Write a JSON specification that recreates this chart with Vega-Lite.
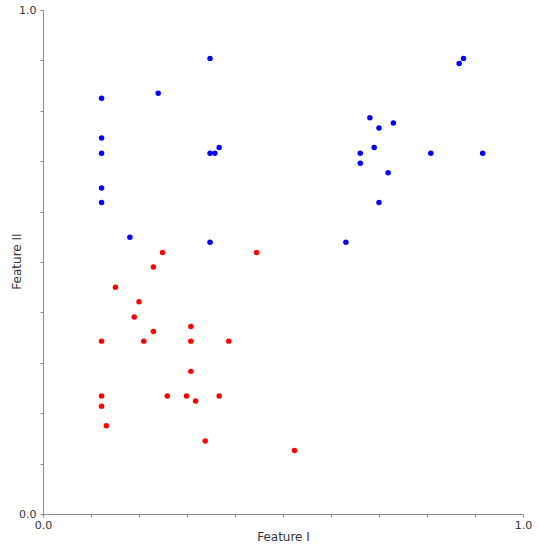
{
  "$schema": "https://vega.github.io/schema/vega-lite/v6.json",
  "autosize": {"type": "none"},
  "padding": {"left": 43, "top": 10, "right": 15, "bottom": 36},
  "width": 480,
  "height": 504,
  "config": {
    "view": {"stroke": null},
    "font": "DejaVu Sans"
  },
  "data": {
    "values": [
      {"f1": 0.348, "f2": 0.904, "cls": "A"},
      {"f1": 0.240, "f2": 0.835, "cls": "A"},
      {"f1": 0.122, "f2": 0.825, "cls": "A"},
      {"f1": 0.122, "f2": 0.746, "cls": "A"},
      {"f1": 0.122, "f2": 0.716, "cls": "A"},
      {"f1": 0.348, "f2": 0.716, "cls": "A"},
      {"f1": 0.358, "f2": 0.716, "cls": "A"},
      {"f1": 0.367, "f2": 0.727, "cls": "A"},
      {"f1": 0.122, "f2": 0.647, "cls": "A"},
      {"f1": 0.122, "f2": 0.618, "cls": "A"},
      {"f1": 0.181, "f2": 0.549, "cls": "A"},
      {"f1": 0.348, "f2": 0.539, "cls": "A"},
      {"f1": 0.876, "f2": 0.904, "cls": "A"},
      {"f1": 0.867, "f2": 0.894, "cls": "A"},
      {"f1": 0.681, "f2": 0.786, "cls": "A"},
      {"f1": 0.730, "f2": 0.776, "cls": "A"},
      {"f1": 0.700, "f2": 0.766, "cls": "A"},
      {"f1": 0.690, "f2": 0.727, "cls": "A"},
      {"f1": 0.661, "f2": 0.716, "cls": "A"},
      {"f1": 0.808, "f2": 0.716, "cls": "A"},
      {"f1": 0.916, "f2": 0.716, "cls": "A"},
      {"f1": 0.661, "f2": 0.696, "cls": "A"},
      {"f1": 0.719, "f2": 0.677, "cls": "A"},
      {"f1": 0.700, "f2": 0.618, "cls": "A"},
      {"f1": 0.631, "f2": 0.539, "cls": "A"},
      {"f1": 0.249, "f2": 0.519, "cls": "B"},
      {"f1": 0.445, "f2": 0.519, "cls": "B"},
      {"f1": 0.230, "f2": 0.490, "cls": "B"},
      {"f1": 0.151, "f2": 0.450, "cls": "B"},
      {"f1": 0.200, "f2": 0.421, "cls": "B"},
      {"f1": 0.190, "f2": 0.391, "cls": "B"},
      {"f1": 0.230, "f2": 0.362, "cls": "B"},
      {"f1": 0.308, "f2": 0.372, "cls": "B"},
      {"f1": 0.122, "f2": 0.343, "cls": "B"},
      {"f1": 0.210, "f2": 0.343, "cls": "B"},
      {"f1": 0.308, "f2": 0.343, "cls": "B"},
      {"f1": 0.387, "f2": 0.343, "cls": "B"},
      {"f1": 0.308, "f2": 0.283, "cls": "B"},
      {"f1": 0.122, "f2": 0.234, "cls": "B"},
      {"f1": 0.259, "f2": 0.234, "cls": "B"},
      {"f1": 0.299, "f2": 0.234, "cls": "B"},
      {"f1": 0.367, "f2": 0.234, "cls": "B"},
      {"f1": 0.318, "f2": 0.224, "cls": "B"},
      {"f1": 0.122, "f2": 0.214, "cls": "B"},
      {"f1": 0.132, "f2": 0.175, "cls": "B"},
      {"f1": 0.338, "f2": 0.145, "cls": "B"},
      {"f1": 0.524, "f2": 0.126, "cls": "B"}
    ]
  },
  "mark": {"type": "circle", "size": 30, "opacity": 1},
  "encoding": {
    "x": {
      "field": "f1", "type": "quantitative", "title": "Feature I",
      "scale": {"domain": [0, 1], "nice": false, "zero": false},
      "axis": {
        "values": [0, 0.1, 0.2, 0.3, 0.4, 0.5, 0.6, 0.7, 0.8, 0.9, 1],
        "format": ".1f",
        "labelExpr": "datum.value == 0 || datum.value == 1 ? datum.label : ''",
        "grid": false,
        "domainColor": "#8c8c8c",
        "tickColor": "#8c8c8c",
        "tickSize": 3,
        "labelPadding": 2,
        "labelFontSize": 11,
        "labelColor": "#333333",
        "labelFlush": false,
        "titleFontSize": 12,
        "titleFontWeight": "normal",
        "titleColor": "#333333",
        "titlePadding": 1
      }
    },
    "y": {
      "field": "f2", "type": "quantitative", "title": "Feature II",
      "scale": {"domain": [0, 1], "nice": false, "zero": false},
      "axis": {
        "values": [0, 0.1, 0.2, 0.3, 0.4, 0.5, 0.6, 0.7, 0.8, 0.9, 1],
        "format": ".1f",
        "labelExpr": "datum.value == 0 || datum.value == 1 ? datum.label : ''",
        "grid": false,
        "domainColor": "#8c8c8c",
        "tickColor": "#8c8c8c",
        "tickSize": 3,
        "labelPadding": 4,
        "labelFontSize": 11,
        "labelColor": "#333333",
        "labelFlush": false,
        "titleFontSize": 12,
        "titleFontWeight": "normal",
        "titleColor": "#333333",
        "titleX": -27,
        "titleY": 251,
        "titleAngle": -90,
        "titleAlign": "center",
        "titleBaseline": "middle"
      }
    },
    "color": {
      "field": "cls", "type": "nominal",
      "scale": {"domain": ["A", "B"], "range": ["#0000ff", "#ff0000"]},
      "legend": null
    }
  }
}
